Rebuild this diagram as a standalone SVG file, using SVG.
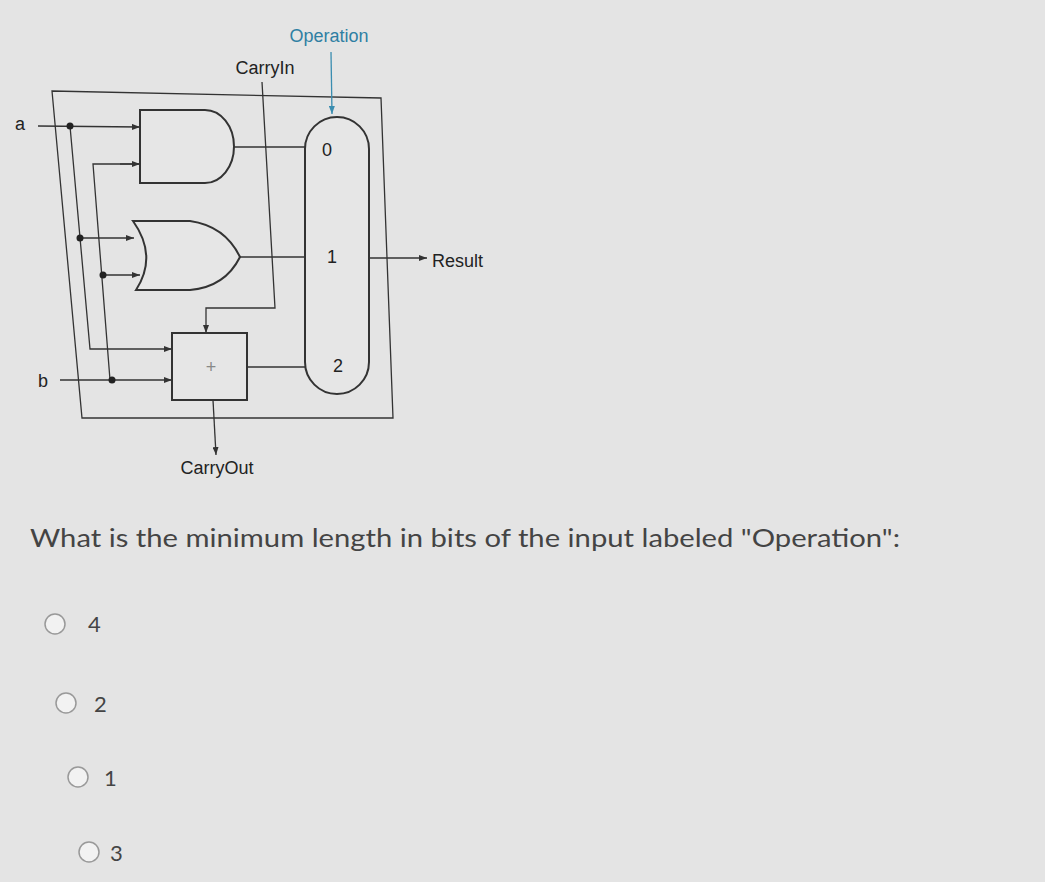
<svg xmlns="http://www.w3.org/2000/svg" width="1045" height="882" viewBox="0 0 1045 882">
<defs>
<marker id="ar" markerWidth="8" markerHeight="6" refX="8" refY="3" orient="auto" markerUnits="userSpaceOnUse"><path d="M0,0 L8,3 L0,6 z" fill="#333"/></marker>
<marker id="ab" markerWidth="8" markerHeight="6" refX="8" refY="3" orient="auto" markerUnits="userSpaceOnUse"><path d="M0,0 L8,3 L0,6 z" fill="#3a8db0"/></marker>
</defs>
<style>
.w{stroke:#333;stroke-width:1.3;fill:none}
.g{stroke:#333;stroke-width:2;fill:#e6e6e6}
.t{font-family:"Liberation Sans",Arial,sans-serif;font-size:18px;fill:#222}
.q{font-family:Lato,"Liberation Sans",sans-serif;fill:#444}
.r{fill:#f2f2f2;stroke:#999;stroke-width:1.5}
</style>
<rect width="1045" height="882" fill="#e4e4e4"/>
<g id="frame"><polygon points="52,91 381,98 393,418 82,418" class="w" stroke-width="2"/></g>
<g id="connectors">
<line x1="38" y1="126" x2="140" y2="127" class="w" marker-end="url(#ar)"/>
<polyline points="70,126 90,349 172,349" class="w" marker-end="url(#ar)"/>
<line x1="80" y1="238" x2="134" y2="238" class="w" marker-end="url(#ar)"/>
<polyline points="140,164 93,164 110,380" class="w"/>
<line x1="60" y1="380" x2="172" y2="380" class="w" marker-end="url(#ar)"/>
<line x1="103" y1="275" x2="140" y2="275" class="w" marker-end="url(#ar)"/>
<line x1="120" y1="164" x2="140" y2="164" class="w" marker-end="url(#ar)"/>
<line x1="233" y1="147" x2="305" y2="147" class="w"/>
<line x1="240" y1="257" x2="312" y2="257" class="w"/>
<line x1="247" y1="367" x2="317" y2="367" class="w"/>
<polyline points="262,82 275,308 206,308 206,333" class="w" marker-end="url(#ar)"/>
<line x1="213" y1="400" x2="216" y2="455" class="w" marker-end="url(#ar)"/>
<line x1="331" y1="52" x2="332" y2="114" stroke="#3a8db0" stroke-width="1.3" marker-end="url(#ab)"/>
<line x1="370" y1="258" x2="427" y2="258" class="w" marker-end="url(#ar)"/>
<circle cx="70" cy="126" r="3.5" fill="#222"/>
<circle cx="80" cy="238" r="3.5" fill="#222"/>
<circle cx="103" cy="275" r="3.5" fill="#222"/>
<circle cx="112" cy="380" r="3.5" fill="#222"/>
</g>
<g id="and"><path d="M140,110 L205,110 A29,36.5 0 0 1 205,183 L140,183 Z" class="g"/></g>
<g id="or"><path d="M133,221 L190,221 Q225,226 240,257 Q225,287 190,290 L136,290 Q158,256 133,221 Z" class="g"/></g>
<g id="adder"><rect x="172" y="333" width="75" height="67" class="g"/><text x="211" y="373" class="t" font-size="14" text-anchor="middle" style="fill:#888">+</text></g>
<g id="mux"><rect x="305" y="117" width="64" height="277" rx="32" class="g"/>
<text x="327" y="156" class="t" font-size="15" text-anchor="middle">0</text>
<text x="332" y="263" class="t" font-size="15" text-anchor="middle">1</text>
<text x="338" y="372" class="t" font-size="15" text-anchor="middle">2</text></g>
<g id="labels">
<text x="15" y="130" class="t" font-size="15">a</text>
<text x="38" y="387" class="t" font-size="15">b</text>
<text x="265" y="74" class="t" text-anchor="middle">CarryIn</text>
<text x="329" y="42" class="t" text-anchor="middle" style="fill:#2f7fa3">Operation</text>
<text x="432" y="267" class="t">Result</text>
<text x="217" y="474" class="t" text-anchor="middle">CarryOut</text>
</g>
<g id="question">
<text x="30" y="547" class="q" font-size="25.5" textLength="870" lengthAdjust="spacingAndGlyphs">What is the minimum length in bits of the input labeled "Operation":</text>
<circle cx="55" cy="624" r="10" class="r"/><text x="88" y="632" class="q" font-size="22">4</text>
<circle cx="66" cy="703" r="10" class="r"/><text x="94" y="712" class="q" font-size="22">2</text>
<circle cx="78" cy="777" r="10" class="r"/><text x="104" y="786" class="q" font-size="22">1</text>
<circle cx="89" cy="852" r="10" class="r"/><text x="110" y="861" class="q" font-size="22">3</text>
</g>
</svg>
